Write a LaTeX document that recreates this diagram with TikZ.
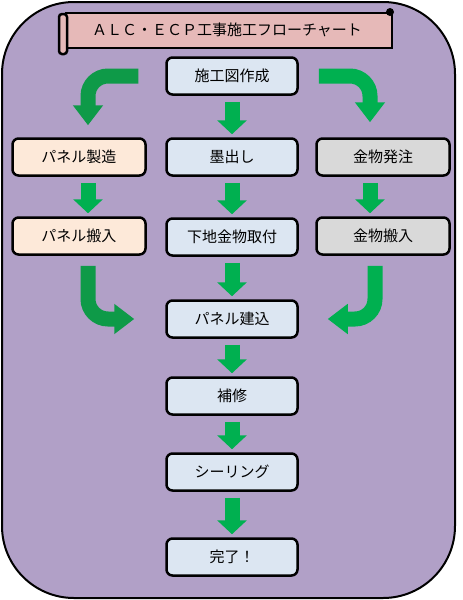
\documentclass[tikz,border=0pt]{standalone}
\usepackage{fontspec}
\setmainfont{Noto Sans CJK JP}
\usetikzlibrary{arrows.meta}
\definecolor{bgpurple}{HTML}{B1A0C7}
\definecolor{titlepink}{HTML}{E6B9B8}
\definecolor{stepblue}{HTML}{DCE6F2}
\definecolor{steporange}{HTML}{FDE9D9}
\definecolor{stepgray}{HTML}{D9D9D9}
\definecolor{arrowgreen}{HTML}{00B050}
\definecolor{arrowdark}{HTML}{0E9A48}

\begin{document}
\begin{tikzpicture}[x=1pt, y=-1pt,
    stepbox/.style={draw, rounded corners=6pt, line width=2.5pt, minimum width=131pt, minimum height=37pt, inner sep=0pt, font=\fontsize{15}{15}\selectfont},
    sidebox/.style={stepbox, minimum width=133pt},
    downarrow/.style={draw=arrowgreen, line width=15pt, shorten <=6pt, shorten >=3pt, -{Triangle[width=29pt, length=14pt]}},
    bendarrow/.style={line width=15pt, rounded corners=20pt, -{Triangle[width=29pt, length=20pt]}}]

    \useasboundingbox (0,0) rectangle (463,600);

    % Background panel
    \draw[line width=2pt, fill=bgpurple, rounded corners=72pt] (2,2) rectangle (455,598);

    % Title scroll
    \draw[line width=2.5pt, fill=titlepink] (66,13) rectangle (392,48);
    \draw[line width=2.5pt, fill=titlepink, rounded corners=3pt] (59,14) rectangle (67,54);
    \fill (390,12) circle (4pt);
    \node[font=\fontsize{15}{15}\selectfont] (title) at (227,30) {ＡＬＣ・ＥＣＰ工事施工フローチャート};

    % Main column
    \node[stepbox, fill=stepblue] (plan) at (232,76) {施工図作成};
    \node[stepbox, fill=stepblue] (ink) at (232,157) {墨出し};
    \node[stepbox, fill=stepblue] (base) at (232,237) {下地金物取付};
    \node[stepbox, fill=stepblue] (erect) at (232,319) {パネル建込};
    \node[stepbox, fill=stepblue] (repair) at (232,396) {補修};
    \node[stepbox, fill=stepblue] (seal) at (232,472) {シーリング};
    \node[stepbox, fill=stepblue] (done) at (232,557) {完了！};

    % Panel column
    \node[sidebox, fill=steporange] (make) at (79,157) {パネル製造};
    \node[sidebox, fill=steporange] (carry) at (79,236) {パネル搬入};

    % Fittings column
    \node[sidebox, fill=stepgray] (order) at (383,157) {金物発注};
    \node[sidebox, fill=stepgray] (mcarry) at (383,236) {金物搬入};

    % Straight arrows
    \draw[downarrow] (plan) -- (ink);
    \draw[downarrow] (ink) -- (base);
    \draw[downarrow] (base) -- (erect);
    \draw[downarrow] (erect) -- (repair);
    \draw[downarrow] (repair) -- (seal);
    \draw[downarrow] (seal) -- (done);
    \draw[downarrow] ([xshift=9pt]make.south) -- ([xshift=9pt]carry.north);
    \draw[downarrow] ([xshift=-13pt]order.south) -- ([xshift=-13pt]mcarry.north);

    % Bent arrows
    \draw[bendarrow, draw=arrowdark] ([xshift=-27pt]plan.west) -| ([xshift=9pt, yshift=12pt]make.north);
    \draw[bendarrow, draw=arrowgreen] ([xshift=20pt]plan.east) -| ([xshift=-13pt, yshift=15pt]order.north);
    \draw[bendarrow, draw=arrowdark] ([xshift=9pt, yshift=-10pt]carry.south) |- ([xshift=-31pt]erect.west);
    \draw[bendarrow, draw=arrowgreen] ([xshift=-8pt, yshift=-10pt]mcarry.south) |- ([xshift=29pt]erect.east);

\end{tikzpicture}
\end{document}
